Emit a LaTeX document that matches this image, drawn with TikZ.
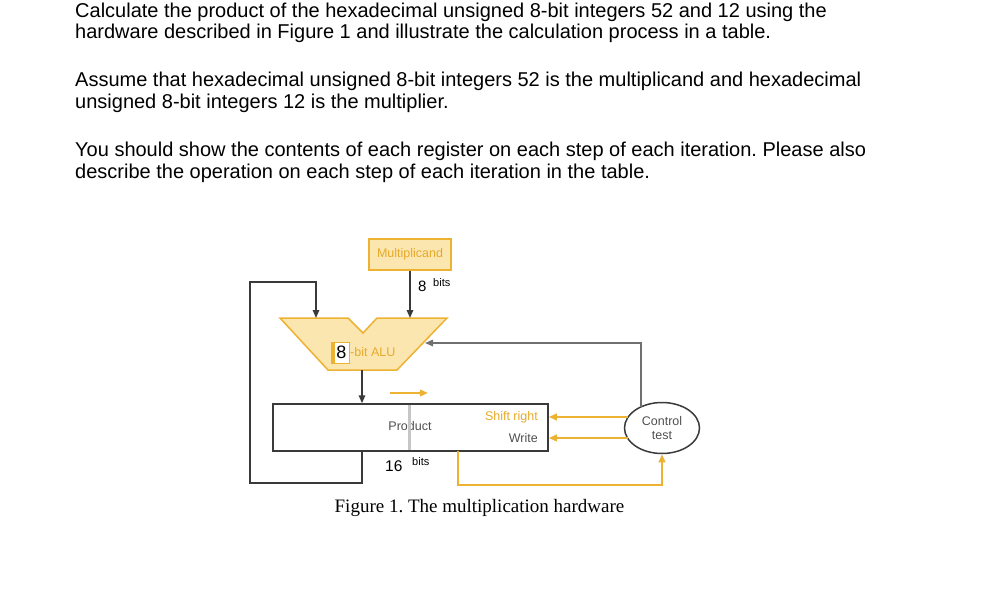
\documentclass[tikz,border=0pt]{standalone}
\usepackage{fontspec}
\setmainfont{Liberation Sans}
\newfontfamily\serifcap{Liberation Serif}
\usetikzlibrary{shapes.geometric,arrows.meta}
\definecolor{ylw}{HTML}{EDB232}
\definecolor{ylwfill}{HTML}{FCE6B0}
\definecolor{ylwtext}{HTML}{E6AA28}
\definecolor{dk}{HTML}{3A3A3A}
\definecolor{gr}{HTML}{707070}
\definecolor{txtgray}{HTML}{505050}
\frenchspacing
\begin{document}
\begin{tikzpicture}[x=1pt,y=-1pt,
  qtext/.style={anchor=base west,inner sep=0pt,font=\fontsize{20}{24}\selectfont},
  tip/.style={-{Triangle[length=8pt,width=6.5pt]}},
  darr/.style={draw=dk,line width=1.5pt,tip},
  garr/.style={draw=gr,line width=1.5pt,tip},
  yarr/.style={draw=ylw,line width=2pt,tip},
  small/.style={font=\fontsize{12.5}{14}\selectfont,inner sep=0pt},
]
\useasboundingbox (0,0) rectangle (996,608);
\fill[white] (0,0) rectangle (996,608);

% question text
\node[qtext] (t1) at (75,17) {Calculate the product of the hexadecimal unsigned 8-bit integers 52 and 12 using the};
\node[qtext] (t2) at (75,38.5) {hardware described in Figure 1 and illustrate the calculation process in a table.};
\node[qtext] (t3) at (75,86.5) {Assume that hexadecimal unsigned 8-bit integers 52 is the multiplicand and hexadecimal};
\node[qtext] (t4) at (75,108) {unsigned 8-bit integers 12 is the multiplier.};
\node[qtext] (t5) at (75,156.5) {You should show the contents of each register on each step of each iteration. Please also};
\node[qtext] (t6) at (75,178) {describe the operation on each step of each iteration in the table.};

% multiplicand
\node[draw=ylw,fill=ylwfill,line width=1.5pt,minimum width=82pt,minimum height=31pt,
      small,text=ylwtext] (mc) at (410,254.5) {Multiplicand};

% ALU
\draw[ylw,fill=ylwfill,line width=1.5pt] (280,318) -- (348,318) -- (363,333) -- (377,318)
  -- (447,318) -- (397,370) -- (328,370) -- cycle;
\coordinate (aluL) at (316,318);
\coordinate (aluM) at (410,318);
\coordinate (aluR) at (425,343);
\coordinate (aluB) at (362,370);
\node[draw=ylw,fill=white,line width=1pt,minimum width=16pt,minimum height=21pt,inner sep=0pt,
      font=\fontsize{18}{20}\selectfont] (alu8) at (341.5,352.5) {8};
\draw[ylw,line width=3.5pt] (alu8.north west) -- (alu8.south west);
\node[small,anchor=west,text=ylwtext] (alut) at (350,352.5) {-bit ALU};

\draw[darr] (mc.south) -- (aluM);
\node[inner sep=0pt,anchor=base west,font=\fontsize{15}{17}\selectfont] (b8) at (418,291) {8};
\node[inner sep=0pt,anchor=base west,font=\fontsize{11}{13}\selectfont] (b8b) at (433,286) {bits};

% product register
\node[draw=dk,line width=1.5pt,minimum width=275pt,minimum height=47pt,inner sep=0pt] (prod) at (410.5,427.5) {};
\node[small,text=txtgray] (prodt) at (410,426) {Product};
\draw[gray!45,line width=3pt] (409,405) -- (409,450);
\node[small,anchor=east,text=ylwtext] (shr) at (538,417) {Shift right};
\node[small,anchor=east,text=txtgray] (wr) at (538,438) {Write};

\draw[darr] (aluB) -- (aluB |- prod.north);
\coordinate (sa) at (390,393);
\coordinate (sb) at (428,393);
\draw[yarr] (sa) -- (sb);

\node[inner sep=0pt,anchor=base west,font=\fontsize{15.5}{17}\selectfont] (b16) at (385,471) {16};
\node[inner sep=0pt,anchor=base west,font=\fontsize{11}{13}\selectfont] (b16b) at (412,465) {bits};

% loop back to ALU
\coordinate (lp1) at (362,483);
\coordinate (lp2) at (250,483);
\coordinate (lp3) at (250,282);
\coordinate (lp4) at (316,282);
\draw[darr,line join=miter] (aluB |- prod.south) -- (lp1) -- (lp2) -- (lp3) -- (lp4) -- (aluL);

% control
\node[ellipse,draw=dk,line width=1.5pt,minimum width=75pt,minimum height=51pt,inner sep=0pt,
      small,align=center,text=txtgray] (ctl) at (662,428) {Control\\[0pt]test};
\coordinate (ctltop) at (641,407);
\coordinate (ct2) at (641,343);
\draw[garr] (ctltop) -- (ct2) -- (aluR);

\coordinate (cs) at (628,417);
\coordinate (cw) at (627.5,438);
\draw[yarr] (cs) -- (cs -| prod.east);
\draw[yarr] (cw) -- (cw -| prod.east);

\coordinate (ys) at (458,451);
\coordinate (y1) at (458,485);
\coordinate (y2) at (662,485);
\draw[yarr] (ys) -- (y1) -- (y2) -- (ctl.south);

% caption
\node[inner sep=0pt,anchor=base,font=\serifcap\fontsize{19}{22}\selectfont] (cap) at (479.5,512) {Figure 1. The multiplication hardware};
\end{tikzpicture}
\end{document}
